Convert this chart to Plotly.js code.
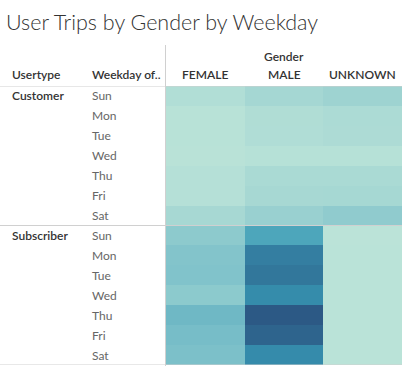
<!DOCTYPE html>
<html>
<head>
<meta charset="utf-8">
<script src="https://cdn.plot.ly/plotly-3.0.1.min.js"></script>
<style>
html,body{margin:0;padding:0;background:#fff;}
#chart{width:402px;height:366px;}
</style>
</head>
<body>
<div id="chart"></div>
<script>
// ---- data ----
var genders = ["FEMALE", "MALE", "UNKNOWN"];
var usertypes = ["Customer", "Subscriber"];
var weekdays = ["Sun", "Mon", "Tue", "Wed", "Thu", "Fri", "Sat"];

var customerFemale = [6000, 2200, 2200, 1500, 3800, 3800, 12000];
var customerMale   = [13500, 6800, 6500, 3200, 10500, 12000, 21000];
var customerUnknown= [18000, 9000, 8800, 3300, 10500, 12800, 27000];

var subscriberFemale = [29000, 36000, 37500, 29500, 49500, 44000, 40500];
var subscriberMale   = [70000, 111000, 118000, 97000, 150000, 138000, 97500];
var subscriberUnknown= [800, 1000, 1000, 1000, 1200, 1200, 1200];

// Tableau Blue-Teal
var palette = ["#bce4d8","#aedcd5","#a1d5d2","#95cecf","#89c8cc","#7ec1ca","#72bac6","#66b2c2","#59acbe","#4ba5ba","#419eb6","#3b96b2","#358ead","#3586a7","#347ea1","#32779b","#316f96","#2f6790","#2d608a","#2c5985"];
var colorscale = palette.map(function(c, i){ return [i/(palette.length-1), c]; });

// ---- build matrix ----
var z = [], rowIdx = [];
var series = {
  Customer: [customerFemale, customerMale, customerUnknown],
  Subscriber: [subscriberFemale, subscriberMale, subscriberUnknown]
};
usertypes.forEach(function(u){
  weekdays.forEach(function(d, di){
    rowIdx.push(z.length);
    z.push(series[u].map(function(arr){ return arr[di]; }));
  });
});

var W = 402, H = 366;
var left = 166;
var fam = "Lato, 'Open Sans', sans-serif";
var plotTop = 86, plotBot = 365;
function py(p){ return (plotBot - p) / (plotBot - plotTop); }

var hdrFont = {family: fam, size: 12, color: '#333', weight: 600};
var annotations = [];
// column headers
genders.forEach(function(g){
  annotations.push({x: g, xref: 'x', y: py(75), yref: 'paper', text: g, showarrow: false,
    font: hdrFont, xanchor: 'center', yanchor: 'middle'});
});
annotations.push({x: 'MALE', xref: 'x', y: py(56), yref: 'paper', text: 'Gender', showarrow: false,
  font: hdrFont, xanchor: 'center', yanchor: 'middle'});
annotations.push({x: 10/W, xref: 'paper', y: py(75), yref: 'paper', text: 'Usertype', showarrow: false,
  font: hdrFont, xanchor: 'left', yanchor: 'middle'});
annotations.push({x: 90/W, xref: 'paper', y: py(75), yref: 'paper', text: 'Weekday of..', showarrow: false,
  font: hdrFont, xanchor: 'left', yanchor: 'middle'});
// row labels
var r = 0;
usertypes.forEach(function(u){
  annotations.push({x: 10/W, xref: 'paper', y: r, yref: 'y', text: u, showarrow: false,
    font: hdrFont, xanchor: 'left', yanchor: 'middle'});
  weekdays.forEach(function(d){
    annotations.push({x: 90/W, xref: 'paper', y: r, yref: 'y', text: d, showarrow: false,
      font: {family: fam, size: 12, color: '#666'}, xanchor: 'left', yanchor: 'middle'});
    r++;
  });
});

var lc = '#d0d0d0';
var shapes = [
  {type: 'line', xref: 'paper', yref: 'paper', x0: 165.5/W, x1: 165.5/W, y0: py(45), y1: py(366), line: {color: lc, width: 1}, layer: 'above'},
  {type: 'line', xref: 'paper', yref: 'y', x0: 0, x1: 1, y0: -0.5, y1: -0.5, line: {color: lc, width: 1}, layer: 'above'},
  {type: 'line', xref: 'paper', yref: 'y', x0: 0, x1: 1, y0: 6.5, y1: 6.5, line: {color: lc, width: 1}, layer: 'above'},
  {type: 'line', xref: 'paper', yref: 'y', x0: 0, x1: 1, y0: 13.5, y1: 13.5, line: {color: lc, width: 1}, layer: 'above'}
];

var trace = {
  type: 'heatmap',
  x: genders,
  y: rowIdx,
  z: z,
  zmin: 0,
  zmax: 150000,
  colorscale: colorscale,
  showscale: false,
  hoverinfo: 'z'
};

var layout = {
  width: W, height: H,
  margin: {l: 0, r: 0, t: plotTop, b: H - plotBot, pad: 0},
  paper_bgcolor: '#fff', plot_bgcolor: '#fff',
  title: {text: 'User Trips by Gender by Weekday', x: 6/W, xanchor: 'left', xref: 'paper',
    y: 1 - 22/H, yanchor: 'middle', yref: 'container',
    font: {family: fam, size: 21.5, color: '#333', weight: 300}},
  xaxis: {domain: [left/W, 1], type: 'category', showticklabels: false, ticks: '', showgrid: false, zeroline: false, fixedrange: true},
  yaxis: {range: [13.5, -0.5], showticklabels: false, ticks: '', showgrid: false, zeroline: false, fixedrange: true},
  annotations: annotations,
  shapes: shapes,
  showlegend: false
};

Plotly.newPlot('chart', [trace], layout, {displayModeBar: false, staticPlot: true});
</script>
</body>
</html>
